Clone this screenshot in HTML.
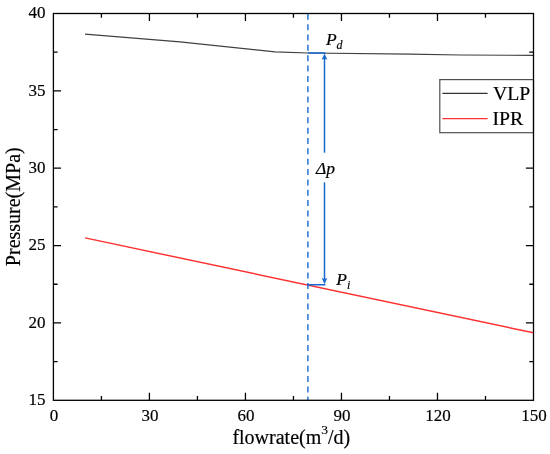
<!DOCTYPE html>
<html><head><meta charset="utf-8"><title>VLP IPR</title>
<style>
html,body{margin:0;padding:0;background:#fff;}
svg{display:block;font-family:"Liberation Serif","Times New Roman",serif;}
text{fill:#000;stroke:#000;stroke-width:0.18px;}
</style></head><body>
<svg width="550" height="454" viewBox="0 0 550 454">
<rect width="550" height="454" fill="#fff"/>
<path d="M101.41 400.3 v-4.2 M101.41 13.5 v4.2 M149.42 400.3 v-7.6 M149.42 13.5 v7.6 M197.43 400.3 v-4.2 M197.43 13.5 v4.2 M245.44 400.3 v-7.6 M245.44 13.5 v7.6 M293.45 400.3 v-4.2 M293.45 13.5 v4.2 M341.46 400.3 v-7.6 M341.46 13.5 v7.6 M389.47 400.3 v-4.2 M389.47 13.5 v4.2 M437.48 400.3 v-7.6 M437.48 13.5 v7.6 M485.49 400.3 v-4.2 M485.49 13.5 v4.2 M53.4 361.62 h4.2 M533.5 361.62 h-4.2 M53.4 322.94 h7.6 M533.5 322.94 h-7.6 M53.4 284.26 h4.2 M533.5 284.26 h-4.2 M53.4 245.58 h7.6 M533.5 245.58 h-7.6 M53.4 206.90 h4.2 M533.5 206.90 h-4.2 M53.4 168.22 h7.6 M533.5 168.22 h-7.6 M53.4 129.54 h4.2 M533.5 129.54 h-4.2 M53.4 90.86 h7.6 M533.5 90.86 h-7.6 M53.4 52.18 h4.2 M533.5 52.18 h-4.2" stroke="#000" stroke-width="1.3" fill="none"/>
<text transform="translate(54.00 421.4) scale(1 1.045)" font-size="17" text-anchor="middle">0</text>
<text transform="translate(150.02 421.4) scale(1 1.045)" font-size="17" text-anchor="middle">30</text>
<text transform="translate(246.04 421.4) scale(1 1.045)" font-size="17" text-anchor="middle">60</text>
<text transform="translate(342.06 421.4) scale(1 1.045)" font-size="17" text-anchor="middle">90</text>
<text transform="translate(438.08 421.4) scale(1 1.045)" font-size="17" text-anchor="middle">120</text>
<text transform="translate(534.10 421.4) scale(1 1.045)" font-size="17" text-anchor="middle">150</text>
<text transform="translate(45.4 405.05) scale(1 1.045)" font-size="17" text-anchor="end">15</text>
<text transform="translate(45.4 327.69) scale(1 1.045)" font-size="17" text-anchor="end">20</text>
<text transform="translate(45.4 250.33) scale(1 1.045)" font-size="17" text-anchor="end">25</text>
<text transform="translate(45.4 172.97) scale(1 1.045)" font-size="17" text-anchor="end">30</text>
<text transform="translate(45.4 95.61) scale(1 1.045)" font-size="17" text-anchor="end">35</text>
<text transform="translate(45.4 18.25) scale(1 1.045)" font-size="17" text-anchor="end">40</text>
<polyline points="85.0,34.2 180.0,41.9 275.0,51.9 308.0,53.0 410.0,54.2 460.0,55.0 533.5,55.4" fill="none" stroke="#404040" stroke-width="1.2"/>
<line x1="85.1" y1="237.9" x2="533.5" y2="332.8" stroke="#ff3030" stroke-width="1.45"/>
<line x1="307.9" y1="13.8" x2="307.9" y2="400.3" stroke="#1769d0" stroke-width="1.4" stroke-dasharray="6 4.35"/>
<path d="M307.9 53.0 H325.4 M307.9 284.8 H325.4" stroke="#1769d0" stroke-width="1.4" fill="none"/>
<line x1="324.5" y1="57" x2="324.5" y2="280.5" stroke="#1769d0" stroke-width="1.5"/>
<path d="M324.5 53.5 l2.8 6.2 l-2.8 -0.9 l-2.8 0.9 z" fill="#1769d0"/>
<path d="M324.5 284.3 l2.8 -6.2 l-2.8 0.9 l-2.8 -0.9 z" fill="#1769d0"/>
<rect x="314" y="152.7" width="24" height="29.7" fill="#fff"/>
<text x="315.9" y="174.1" font-size="17.5" font-style="italic">Δp</text>
<text x="326.0" y="44.8" font-size="17.5" font-style="italic">P<tspan font-size="12" dy="4.4" dx="-0.2">d</tspan></text>
<text x="336.2" y="284.8" font-size="17.5" font-style="italic">P<tspan font-size="12" dy="4.4" dx="0.2">i</tspan></text>
<rect x="439.8" y="79.6" width="93.70" height="53.1" fill="#fff" stroke="#505050" stroke-width="1.2"/>
<line x1="442.4" y1="93.4" x2="487.6" y2="93.4" stroke="#333" stroke-width="1.1"/>
<line x1="442.4" y1="118.6" x2="487.6" y2="118.6" stroke="#ff3030" stroke-width="1.2"/>
<text x="493" y="100" font-size="19.8">VLP</text>
<text x="492.5" y="125.2" font-size="19.8">IPR</text>
<rect x="53.4" y="13.5" width="480.10" height="386.80" fill="none" stroke="#000" stroke-width="1.3"/>
<text x="291.3" y="443.8" font-size="20" text-anchor="middle">flowrate(m<tspan font-size="13.5" dy="-10.3">3</tspan><tspan dy="10.3">/d)</tspan></text>
<text transform="translate(20 206.7) rotate(-90)" font-size="20" text-anchor="middle">Pressure(MPa)</text>
</svg>
</body></html>
